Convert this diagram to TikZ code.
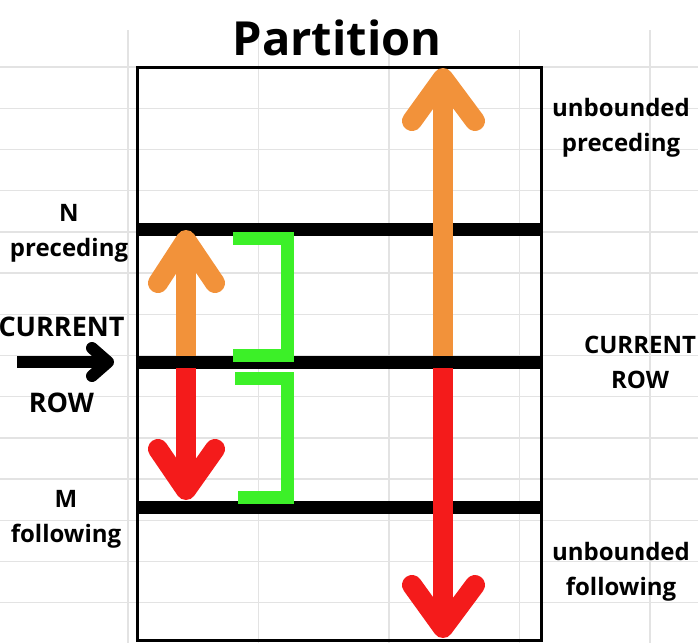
\documentclass[tikz,border=0pt]{standalone}
\usepackage{fontspec}
\setmainfont{Open Sans}
\usepackage{tikz}
\usetikzlibrary{calc}
\usepackage{xcolor}
\definecolor{OrgA}{HTML}{F2923A}
\definecolor{RedA}{HTML}{F41B1B}
\definecolor{GrnB}{HTML}{3CF028}
\definecolor{GrdL}{HTML}{E3E3E3}
\tikzset{
  GRD/.style={line width=1.4pt, color=GrdL},
  FRM/.style={line width=3pt, color=black},
  ROWL/.style={line width=13pt, color=black},
  BRK/.style={line width=13pt, color=GrnB, line join=miter},
  SHF/.style={line width=20pt, color=#1, line cap=butt},
  HED/.style={line width=20pt, color=#1, line cap=round, line join=round},
  LBL/.style={
    font=\fontsize{#1}{35}\selectfont\bfseries,
    align=center, inner sep=0pt
  },
  LBL/.default=24,
}

\begin{document}
\begin{tikzpicture}[x=1pt,y=-1pt]
\useasboundingbox (0,0) rectangle (698,643);

%================ SHEET GRID =================
\foreach \gy in {0,...,13}
  \draw[GRD] (0,{67+41.2*\gy}) -- (698,{67+41.2*\gy});
\foreach \gx in {128,258.5,389,519.5,650}
  \draw[GRD] (\gx,30) -- (\gx,643);

%================ PARTITION FRAME =================
\node[LBL=47] (ttl) at (337,38) {Partition};

\coordinate (ptl) at (137,67);
\coordinate (pbr) at (541,640);
\draw[FRM] (ptl) rectangle (pbr);

%================ ROW LINES =================
\foreach \ry/\rn in {229/npre,362/curr,507/mfol}{
  \coordinate (\rn W) at (137,\ry);
  \coordinate (\rn E) at (541,\ry);
  \draw[ROWL] (\rn W) -- (\rn E);
}

%================ N PRECEDING / M FOLLOWING =================
\coordinate (upB)  at (186,356);
\coordinate (upT)  at (186,240);
\coordinate (upWL) at (158,283);
\coordinate (upWR) at (215,283);
\draw[SHF=OrgA] (upB) -- (upT);
\draw[HED=OrgA] (upWL) -- (upT) -- (upWR);

\coordinate (dnT)  at (186,368);
\coordinate (dnB)  at (186,490);
\coordinate (dnWL) at (158,449);
\coordinate (dnWR) at (215,449);
\draw[SHF=RedA] (dnT) -- (dnB);
\draw[HED=RedA] (dnWL) -- (dnB) -- (dnWR);

\draw[BRK] (233,238.5) -- (287,238.5) -- (287,355) -- (233,355);
\draw[BRK] (235,378) -- (287,378) -- (287,497) -- (238,497);

%================ UNBOUNDED =================
\coordinate (ubB)  at (443,356);
\coordinate (ubT)  at (443,78);
\coordinate (ubWL) at (412,121);
\coordinate (ubWR) at (475,121);
\draw[SHF=OrgA] (ubB) -- (ubT);
\draw[HED=OrgA] (ubWL) -- (ubT) -- (ubWR);

\coordinate (ufT)  at (443,368);
\coordinate (ufB)  at (443,628);
\coordinate (ufWL) at (412,585);
\coordinate (ufWR) at (475,585);
\draw[SHF=RedA] (ufT) -- (ufB);
\draw[HED=RedA] (ufWL) -- (ufB) -- (ufWR);

%================ LEFT LABELS =================
\node[LBL] (npl) at (69,233.5) {N\\preceding};
\node[LBL=27] (crl) at (61.5,327) {CURRENT};
\node[LBL=27] (rwl) at (61.5,403) {ROW};
\node[LBL] (mfl) at (66,519.5) {M\\following};

\coordinate (cpA) at (17,362);
\coordinate (cpT) at (108,362);
\draw[line width=12pt] (cpA) -- (cpT);
\draw[line width=12pt,line cap=round,line join=round]
  (92,348) -- (cpT) -- (92,376);

%================ RIGHT LABELS =================
\node[LBL] (ubp) at (621,128) {unbounded\\preceding};
\node[LBL] (crr) at (640,362.5) {CURRENT\\ROW};
\node[LBL] (ubf) at (621,572) {unbounded\\following};

\end{tikzpicture}
\end{document}
